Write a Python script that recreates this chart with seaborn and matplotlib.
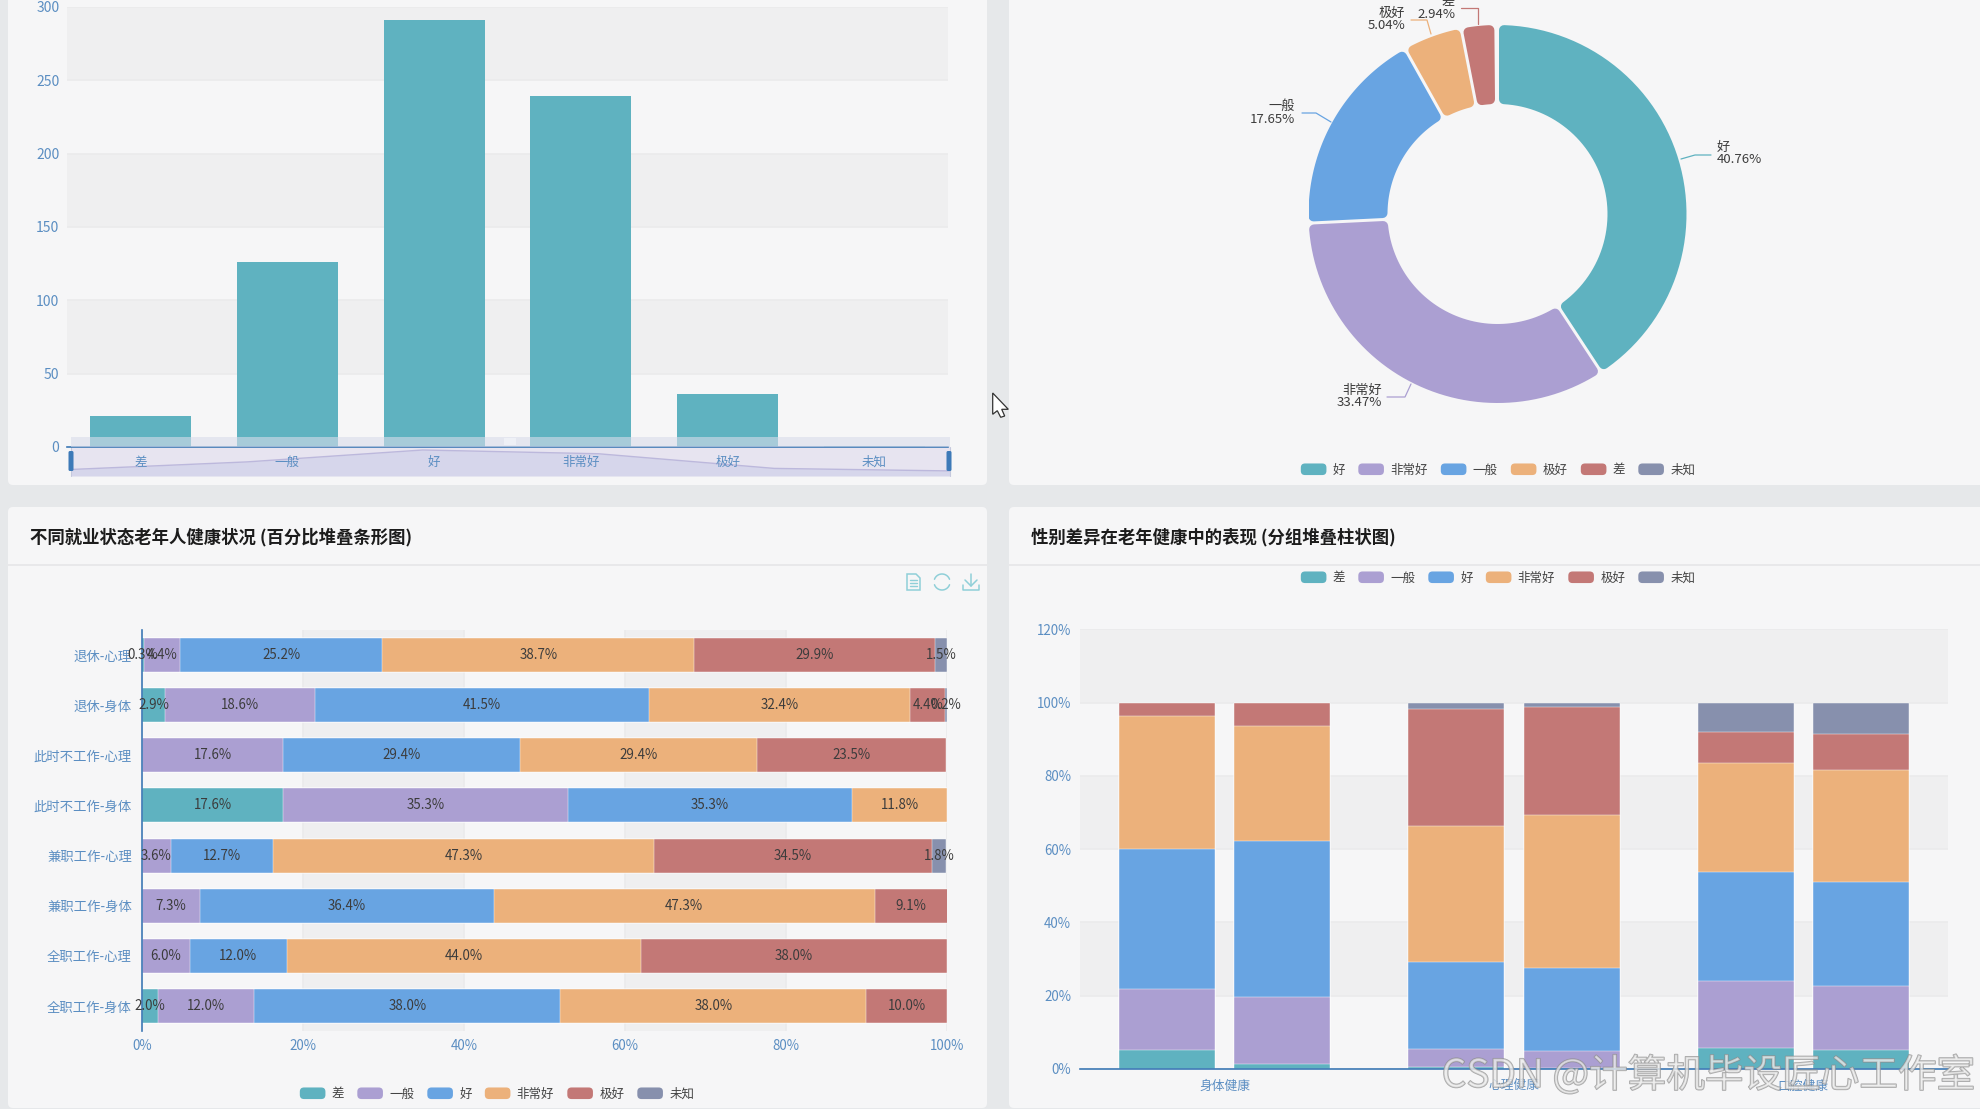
#!/usr/bin/env python3
"""Dashboard of elderly health charts: counts, donut, stacked bars by job and gender."""

import numpy as np
import pandas as pd
import matplotlib
matplotlib.use("Agg")
import matplotlib.pyplot as plt
import matplotlib.patches as mpatches
import matplotlib.patheffects as pe
from matplotlib.legend_handler import HandlerPatch
import seaborn as sns

sns.set_theme(style="white")
plt.rcParams['font.family'] = ['Noto Sans CJK SC', 'DejaVu Sans']

W, H = 1980, 1109

# Health rating counts
levels = ['差', '一般', '好', '非常好', '极好', '未知']
level_counts = [21, 126, 291, 239, 36, 1]

# Donut, largest first
donut_names = ['好', '非常好', '一般', '极好', '差', '未知']
donut_counts = [291, 239, 126, 36, 21, 1]

# Employment state stacked bars, top row first (percent)
job_labels = ['退休-心理', '退休-身体', '此时不工作-心理', '此时不工作-身体',
              '兼职工作-心理', '兼职工作-身体', '全职工作-心理', '全职工作-身体']
job_poor = [0.3, 2.9, 0, 17.6, 0, 0, 0, 2.0]
job_fair = [4.4, 18.6, 17.6, 35.3, 3.6, 7.3, 6.0, 12.0]
job_good = [25.2, 41.5, 29.4, 35.3, 12.7, 36.4, 12.0, 38.0]
job_very_good = [38.7, 32.4, 29.4, 11.8, 47.3, 47.3, 44.0, 38.0]
job_excellent = [29.9, 4.4, 23.5, 0, 34.5, 9.1, 38.0, 10.0]
job_unknown = [1.5, 0.2, 0, 0, 1.8, 0, 0, 0]

# Gender grouped stacks: two bars for each topic (percent)
topics = ['身体健康', '心理健康', '口腔健康']
genders = ['男', '女']
sex_poor = [5.1, 1.3, 0.6, 0.3, 5.6, 5.3]
sex_fair = [16.7, 18.3, 4.8, 4.6, 18.4, 17.4]
sex_good = [38.2, 42.7, 23.8, 22.7, 29.8, 28.4]
sex_very_good = [36.2, 31.3, 37.1, 41.6, 29.6, 30.6]
sex_excellent = [3.8, 6.4, 31.8, 29.6, 8.6, 9.8]
sex_unknown = [0, 0, 1.9, 1.2, 8.0, 8.5]

colors = sns.color_palette(['#5fb2c0', '#ab9fd2', '#68a4e2', '#ecb17b', '#c37876', '#8790ad'])

PAGE = '#e6e8ea'
CARD = '#f6f6f7'
BAND = '#efeff0'
GRID = '#ebebec'
AXIS = '#3d79b5'
TICK = '#5b8ec2'
DARK = '#3c3c3c'
FS = 9.6


def px_axes(x0, y0, x1, y1, zorder=1):
    """Axes placed by pixel box (y counted from the top)"""
    ax = fig.add_axes([x0 / W, 1 - y1 / H, (x1 - x0) / W, (y1 - y0) / H], zorder=zorder)
    ax.set_facecolor('none')
    return ax


def rounded_swatch(legend, orig_handle, xdescent, ydescent, width, height, fontsize):
    return mpatches.FancyBboxPatch((-xdescent, -ydescent), width, height,
                                   boxstyle="round,pad=0,rounding_size=3")


def add_legend(names, center_x, center_y):
    handles = [mpatches.Patch(facecolor=c, edgecolor='none') for c in colors]
    leg = fig.legend(handles, names, loc='center', ncol=6, frameon=False,
                     bbox_to_anchor=(center_x / W, 1 - center_y / H), fontsize=9,
                     handlelength=2.05, handleheight=1.05, handletextpad=0.5,
                     columnspacing=1.05, borderpad=0, labelcolor='#444444',
                     handler_map={mpatches.Patch: HandlerPatch(patch_func=rounded_swatch)})
    return leg


fig = plt.figure(figsize=(W / 100, H / 100), dpi=100, facecolor=PAGE)

# Page layer: cards and the slider body, in pixel coordinates
bg = px_axes(0, 0, W, H, zorder=0)
bg.set_xlim(0, W)
bg.set_ylim(H, 0)
bg.axis('off')
for x0, y0, x1, y1 in [(8, -20, 987, 485), (1009, -20, 2000, 485),
                       (8, 507, 987, 1108), (1009, 507, 2000, 1108)]:
    bg.add_patch(mpatches.FancyBboxPatch((x0, y0), x1 - x0, y1 - y0, facecolor=CARD, edgecolor='none',
                                         boxstyle="round,pad=0,rounding_size=5"))
bg.plot([8, 987], [565, 565], color='#e8e8ea', lw=1.4)
bg.plot([1009, 1980], [565, 565], color='#e8e8ea', lw=1.4)
bg.text(30, 537, '不同就业状态老年人健康状况 (百分比堆叠条形图)', fontsize=12.5, fontweight='bold',
        color='#1c1c1c', va='center')
bg.text(1031, 537, '性别差异在老年健康中的表现 (分组堆叠柱状图)', fontsize=12.5, fontweight='bold',
        color='#1c1c1c', va='center')

# Data zoom slider under the first chart, its shadow follows the counts
slider_x = np.linspace(71, 950, len(level_counts))
slider_y = 471 - np.array(level_counts) / max(level_counts) * 21
bg.fill_between([71, 950], 447, 476, color='#e7e4f0', lw=0)
bg.fill_between(slider_x, slider_y, 476, color='#d6d6eb', lw=0)
bg.plot(slider_x, slider_y, color='#bcb8dc', lw=1)
bg.plot([71, 71], [447, 476], color='#c5c9dd', lw=0.8)
bg.plot([950, 950], [447, 476], color='#c5c9dd', lw=0.8)

# Counts by health rating
ax = px_axes(67, 7, 948, 447)
sns.barplot(x=levels, y=level_counts, color=colors[0], saturation=1, width=0.688, linewidth=0, ax=ax)
for low in [250, 150, 50]:
    ax.axhspan(low, low + 50, color=BAND, lw=0, zorder=0)
ax.set_xlim(-0.5, 5.5)
ax.set_ylim(0, 300)
ax.set_yticks(range(0, 301, 50))
ax.set_axisbelow(True)
ax.yaxis.grid(True, color=GRID, lw=1.3)
ax.set_xticks(np.arange(-0.5, 6), minor=True)
ax.tick_params(axis='x', which='minor', length=3.6, width=1, color=AXIS)
ax.tick_params(axis='x', which='major', length=0, pad=6.5, labelsize=FS - 0.6, labelcolor=TICK)
ax.tick_params(axis='y', length=0, pad=5.5, labelsize=10, labelcolor=TICK)
sns.despine(ax=ax, left=True)
ax.spines['bottom'].set_color(AXIS)
ax.spines['bottom'].set_linewidth(1.2)

# Donut, radius 1 in data units is the outer edge
OUTER = 189.0
INNER = 110.0
dn = px_axes(1497.5 - OUTER, 214 - OUTER, 1497.5 + OUTER, 214 + OUTER)
wedges, _ = dn.pie(donut_counts, colors=colors, startangle=90, counterclock=False, radius=1,
                   wedgeprops={'width': (OUTER - INNER) / OUTER, 'linewidth': 0})
dn.set_xlim(-1, 1)
dn.set_ylim(-1, 1)
corner = 5.0
half_gap = 1.5
r_o = OUTER - corner
r_i = INNER + corner
for w, c in zip(wedges, colors):
    inset_o = np.degrees(np.arcsin((corner + half_gap) / r_o))
    inset_i = np.degrees(np.arcsin((corner + half_gap) / r_i))
    if w.theta2 - w.theta1 <= 2 * inset_o:
        w.set_visible(False)
        continue
    # pie wedge stays under a same coloured outline that rounds the corners
    w.set_radius(r_o / OUTER)
    w.set_width((r_o - r_i) / OUTER)
    w.set_theta1(w.theta1 + inset_i)
    w.set_theta2(w.theta2 - inset_i)
    t_o = np.radians(np.linspace(w.theta1 - inset_i + inset_o, w.theta2 + inset_i - inset_o, 60))
    t_i = np.radians(np.linspace(w.theta2, w.theta1, 60))
    xs = np.r_[r_o * np.cos(t_o), r_i * np.cos(t_i)] / OUTER
    ys = np.r_[r_o * np.sin(t_o), r_i * np.sin(t_i)] / OUTER
    dn.add_patch(mpatches.Polygon(np.c_[xs, ys], closed=True, facecolor=c, edgecolor=c,
                                  lw=corner * 2 * 0.72, joinstyle='round'))

# Job state percent bars, drawn as cumulative layers from the back
ax = px_axes(141.7, 630, 947, 1031)
job_series = [job_poor, job_fair, job_good, job_very_good, job_excellent, job_unknown]
job_cum = np.cumsum(job_series, axis=0)
for j in reversed(range(6)):
    sns.barplot(x=job_cum[j], y=job_labels, color=colors[j], saturation=1, width=0.68, orient='h',
                linewidth=0.3, ax=ax)
for j, series in enumerate(job_series):
    for i, v in enumerate(series):
        if v > 0:
            ax.text(job_cum[j][i] - v / 2, i, f'{v:.1f}%', ha='center', va='center', fontsize=FS, color=DARK)
ax.axvspan(20, 40, color=BAND, lw=0, zorder=0)
ax.axvspan(60, 80, color=BAND, lw=0, zorder=0)
ax.set_xlim(0, 100)
ax.set_ylim(7.5, -0.5)
ax.set_xticks(range(0, 101, 20))
ax.set_xticklabels([f'{t}%' for t in range(0, 101, 20)])
ax.set_axisbelow(True)
ax.xaxis.grid(True, color=GRID, lw=1.3)
ax.set_yticks(np.arange(-0.5, 8), minor=True)
ax.tick_params(axis='y', which='minor', length=4.3, width=1, color=AXIS)
ax.tick_params(axis='y', which='major', length=0, pad=7, labelsize=FS, labelcolor=TICK)
ax.tick_params(axis='x', length=0, pad=6, labelsize=FS, labelcolor=TICK)
sns.despine(ax=ax, bottom=True)
ax.spines['left'].set_color(AXIS)
ax.spines['left'].set_linewidth(1.2)

# Gender grouped stacks, same back to front layering, one dodge per gender
ax = px_axes(1080, 629.2, 1948, 1069)
sex_series = [sex_poor, sex_fair, sex_good, sex_very_good, sex_excellent, sex_unknown]
sex_cum = np.cumsum(sex_series, axis=0)
sex_df = pd.DataFrame({'topic': np.repeat(topics, 2), 'gender': genders * 3})
for j in reversed(range(6)):
    sex_df['top'] = sex_cum[j]
    sns.barplot(data=sex_df, x='topic', y='top', hue='gender', palette=[colors[j], colors[j]],
                saturation=1, width=0.796, gap=0.166, linewidth=0.3, legend=False, ax=ax)
for low in [100, 60, 20]:
    ax.axhspan(low, low + 20, color=BAND, lw=0, zorder=0)
ax.set_xlim(-0.5, 2.5)
ax.set_ylim(0, 120)
ax.set_yticks(range(0, 121, 20))
ax.set_yticklabels([f'{t}%' for t in range(0, 121, 20)])
ax.set_xlabel('')
ax.set_ylabel('')
ax.set_axisbelow(True)
ax.yaxis.grid(True, color=GRID, lw=1.3)
ax.set_xticks(np.arange(-0.5, 3), minor=True)
ax.tick_params(axis='x', which='minor', length=4.3, width=1, color=AXIS)
ax.tick_params(axis='x', which='major', length=0, pad=7.5, labelsize=FS - 0.4, labelcolor=TICK)
ax.tick_params(axis='y', length=0, pad=6.5, labelsize=FS, labelcolor=TICK)
sns.despine(ax=ax, left=True)
ax.spines['bottom'].set_color(AXIS)
ax.spines['bottom'].set_linewidth(1.2)

add_legend(donut_names, 1498, 470)
add_legend(levels, 497, 1094)
add_legend(levels, 1498, 578)

# Top layer: slider strip and handles, donut labels, toolbox, cursor, watermark
top = px_axes(0, 0, W, H, zorder=3)
top.set_xlim(0, W)
top.set_ylim(H, 0)
top.axis('off')
top.fill_between([71, 950], 437, 447, color='#d8dcea', alpha=0.6, lw=0)
top.add_patch(mpatches.Rectangle((504, 438), 12, 7, facecolor='#eef0f6', edgecolor='none'))
for hx in [71, 949]:
    top.add_patch(mpatches.FancyBboxPatch((hx - 2.5, 451), 5, 20, facecolor='#3d7ab8', edgecolor='none',
                                          boxstyle="round,pad=0,rounding_size=1.5"))

label_style = {
    '好': (1717, 'left', 153.5, [(1681, 159), (1695, 155), (1711, 155)]),
    '非常好': (1382, 'right', 396.5, [(1411, 384), (1405, 397), (1387, 397)]),
    '一般': (1295, 'right', 113, [(1331, 122), (1316, 113), (1302, 113)]),
    '极好': (1405, 'right', 19.5, [(1431, 34), (1427, 20), (1411, 20)]),
    '差': (1455, 'right', 8, [(1478, 24), (1478, 8), (1461, 8)]),
}
for name, count, c in zip(donut_names, donut_counts, colors):
    if name not in label_style:
        continue
    tx, ha, ty, line = label_style[name]
    top.plot(*zip(*line), color=c, lw=0.9)
    top.text(tx, ty, f'{name}\n{count / sum(donut_counts) * 100:.2f}%', ha=ha, va='center',
             fontsize=9.5, color=DARK, linespacing=0.98)

ICON = '#8fcfd8'
top.add_patch(mpatches.Polygon([(907, 574), (916, 574), (920, 578), (920, 590), (907, 590)],
                               closed=True, fill=False, edgecolor=ICON, lw=1.1))
for ly in [580, 583, 586]:
    top.plot([910, 917], [ly, ly], color=ICON, lw=1)
arc = np.radians(np.linspace(20, 160, 30))
top.plot(942 + 8 * np.cos(arc), 582 - 8 * np.sin(arc), color=ICON, lw=1.1)
top.plot(942 - 8 * np.cos(arc), 582 + 8 * np.sin(arc), color=ICON, lw=1.1)
top.plot([971, 971], [574, 586], color=ICON, lw=1.1)
top.plot([965, 971, 977], [580, 586, 580], color=ICON, lw=1.1)
top.plot([963, 963, 979, 979], [585, 590, 590, 585], color=ICON, lw=1.1)

top.add_patch(mpatches.Polygon([(992.7, 393), (992.7, 414.3), (997.3, 410.7), (1000.7, 417.3),
                                (1004.7, 416), (1001.7, 409.3), (1008.3, 409.3)],
                               closed=True, facecolor='white', edgecolor='#333333', lw=0.9))

top.text(1975, 1076, 'CSDN @计算机毕设匠心工作室', ha='right', va='center', fontsize=27.8,
         color=(0.93, 0.93, 0.93, 0.55),
         path_effects=[pe.withStroke(linewidth=1.1, foreground=(0.55, 0.55, 0.55, 0.75))])

plt.savefig('out.png', dpi=100, facecolor=PAGE)
plt.close()
